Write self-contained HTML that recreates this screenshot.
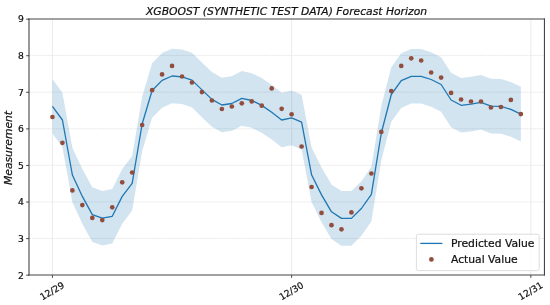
<!DOCTYPE html>
<html><head><meta charset="utf-8"><title>XGBOOST Forecast Horizon</title>
<style>
html,body{margin:0;padding:0;background:#fff;}
body{width:550px;height:305px;overflow:hidden;}
svg{display:block;font-family:"DejaVu Sans","Liberation Sans",sans-serif;fill:#111;}
text{stroke:#111;stroke-width:0.22px;}
.it{font-style:italic;}
</style></head><body>
<svg width="550" height="305" viewBox="0 0 550 305">
<rect width="550" height="305" fill="#fff"/>
<g stroke="#e8e8e8" stroke-width="0.85" stroke-dasharray="2.2 0.5" fill="none">
<line x1="29.0" x2="544.45" y1="238.47" y2="238.47"/>
<line x1="29.0" x2="544.45" y1="201.89" y2="201.89"/>
<line x1="29.0" x2="544.45" y1="165.31" y2="165.31"/>
<line x1="29.0" x2="544.45" y1="128.74" y2="128.74"/>
<line x1="29.0" x2="544.45" y1="92.16" y2="92.16"/>
<line x1="29.0" x2="544.45" y1="55.58" y2="55.58"/>
</g>
<g stroke="#e6e6e6" stroke-width="0.8" fill="none">
<line x1="52.45" x2="52.45" y1="19.0" y2="275.05"/>
<line x1="291.63" x2="291.63" y1="19.0" y2="275.05"/>
<line x1="530.82" x2="530.82" y1="19.0" y2="275.05"/>
</g>
<polygon points="52.45,79 62.42,92.7 72.38,147.7 82.35,169.1 92.31,187.3 102.28,190.9 112.25,189 122.21,169.1 132.18,156 142.14,96.7 152.11,63.2 162.08,53.1 172.04,48.7 182.01,49.5 191.97,52.8 201.94,62.6 211.91,72.1 221.87,77.7 231.84,76.2 241.8,71.1 251.77,73.2 261.74,78.1 271.7,85 281.67,92.7 291.63,90.6 301.6,94.8 311.57,147.5 321.53,167.6 331.5,184.5 341.46,191.1 351.43,191.1 361.4,181.2 371.36,167 381.33,105.7 391.29,67.2 401.26,53.3 411.23,49 421.19,49 431.16,52.2 441.12,57.2 451.09,72.7 461.06,78 471.02,76.8 480.99,75 490.95,78.8 500.92,79.1 510.89,82.1 520.85,86.8 520.85,141.4 510.89,136.7 500.92,133.7 490.95,133.4 480.99,129.6 471.02,131.4 461.06,132.6 451.09,127.3 441.12,111.8 431.16,106.8 421.19,103.6 411.23,103.6 401.26,107.9 391.29,121.8 381.33,160.3 371.36,221.6 361.4,235.8 351.43,245.7 341.46,245.7 331.5,239.1 321.53,222.2 311.57,202.1 301.6,149.4 291.63,145.2 281.67,147.3 271.7,139.6 261.74,132.7 251.77,127.8 241.8,125.7 231.84,130.8 221.87,132.3 211.91,126.7 201.94,117.2 191.97,107.4 182.01,104.1 172.04,103.3 162.08,107.7 152.11,117.8 142.14,151.3 132.18,210.6 122.21,223.7 112.25,243.6 102.28,245.5 92.31,241.9 82.35,223.7 72.38,202.3 62.42,147.3 52.45,133.6" fill="#1f77b4" fill-opacity="0.2" stroke="none"/>
<polyline points="52.45,106.3 62.42,120 72.38,175 82.35,196.4 92.31,214.6 102.28,218.2 112.25,216.3 122.21,196.4 132.18,183.3 142.14,124 152.11,90.5 162.08,80.4 172.04,76 182.01,76.8 191.97,80.1 201.94,89.9 211.91,99.4 221.87,105 231.84,103.5 241.8,98.4 251.77,100.5 261.74,105.4 271.7,112.3 281.67,120 291.63,117.9 301.6,122.1 311.57,174.8 321.53,194.9 331.5,211.8 341.46,218.4 351.43,218.4 361.4,208.5 371.36,194.3 381.33,133 391.29,94.5 401.26,80.6 411.23,76.3 421.19,76.3 431.16,79.5 441.12,84.5 451.09,100 461.06,105.3 471.02,104.1 480.99,102.3 490.95,106.1 500.92,106.4 510.89,109.4 520.85,114.1" fill="none" stroke="#1f77b4" stroke-width="1.3" stroke-linejoin="round" stroke-linecap="butt"/>
<g fill="#914d3e" stroke="none">
<circle cx="52.45" cy="117" r="2.35"/>
<circle cx="62.42" cy="142.8" r="2.35"/>
<circle cx="72.38" cy="190.4" r="2.35"/>
<circle cx="82.35" cy="205.1" r="2.35"/>
<circle cx="92.31" cy="217.9" r="2.35"/>
<circle cx="102.28" cy="220.1" r="2.35"/>
<circle cx="112.25" cy="207.3" r="2.35"/>
<circle cx="122.21" cy="182.3" r="2.35"/>
<circle cx="132.18" cy="172.5" r="2.35"/>
<circle cx="142.14" cy="125" r="2.35"/>
<circle cx="152.11" cy="90.2" r="2.35"/>
<circle cx="162.08" cy="74.4" r="2.35"/>
<circle cx="172.04" cy="65.9" r="2.35"/>
<circle cx="182.01" cy="76.5" r="2.35"/>
<circle cx="191.97" cy="82.5" r="2.35"/>
<circle cx="201.94" cy="92.1" r="2.35"/>
<circle cx="211.91" cy="100.5" r="2.35"/>
<circle cx="221.87" cy="109" r="2.35"/>
<circle cx="231.84" cy="106.5" r="2.35"/>
<circle cx="241.8" cy="103.3" r="2.35"/>
<circle cx="251.77" cy="101.4" r="2.35"/>
<circle cx="261.74" cy="105.7" r="2.35"/>
<circle cx="271.7" cy="88.4" r="2.35"/>
<circle cx="281.67" cy="108.8" r="2.35"/>
<circle cx="291.63" cy="114.3" r="2.35"/>
<circle cx="301.6" cy="146.5" r="2.35"/>
<circle cx="311.57" cy="187" r="2.35"/>
<circle cx="321.53" cy="212.9" r="2.35"/>
<circle cx="331.5" cy="225.2" r="2.35"/>
<circle cx="341.46" cy="229.3" r="2.35"/>
<circle cx="351.43" cy="212.4" r="2.35"/>
<circle cx="361.4" cy="188.3" r="2.35"/>
<circle cx="371.36" cy="173.5" r="2.35"/>
<circle cx="381.33" cy="131.9" r="2.35"/>
<circle cx="391.29" cy="91.1" r="2.35"/>
<circle cx="401.26" cy="65.9" r="2.35"/>
<circle cx="411.23" cy="58.3" r="2.35"/>
<circle cx="421.19" cy="60.5" r="2.35"/>
<circle cx="431.16" cy="72.5" r="2.35"/>
<circle cx="441.12" cy="77.6" r="2.35"/>
<circle cx="451.09" cy="92.9" r="2.35"/>
<circle cx="461.06" cy="99.5" r="2.35"/>
<circle cx="471.02" cy="101.5" r="2.35"/>
<circle cx="480.99" cy="101.5" r="2.35"/>
<circle cx="490.95" cy="107.5" r="2.35"/>
<circle cx="500.92" cy="107" r="2.35"/>
<circle cx="510.89" cy="99.9" r="2.35"/>
<circle cx="520.85" cy="114.1" r="2.35"/>
</g>
<g stroke="#444" stroke-width="1.1" fill="none" stroke-linecap="square">
<line x1="29.0" x2="29.0" y1="19.0" y2="275.05"/>
<line x1="29.0" x2="544.45" y1="275.05" y2="275.05"/>
<line x1="29.0" x2="544.45" y1="19.0" y2="19.0"/>
<line x1="544.45" x2="544.45" y1="19.0" y2="275.05"/>
</g>
<g stroke="#222" stroke-width="0.8" fill="none" transform="translate(0,0.15)">
<line x1="26.1" x2="29.0" y1="275.05" y2="275.05"/>
<line x1="26.1" x2="29.0" y1="238.47" y2="238.47"/>
<line x1="26.1" x2="29.0" y1="201.89" y2="201.89"/>
<line x1="26.1" x2="29.0" y1="165.31" y2="165.31"/>
<line x1="26.1" x2="29.0" y1="128.74" y2="128.74"/>
<line x1="26.1" x2="29.0" y1="92.16" y2="92.16"/>
<line x1="26.1" x2="29.0" y1="55.58" y2="55.58"/>
<line x1="26.1" x2="29.0" y1="19" y2="19"/>
<line x1="52.45" x2="52.45" y1="275.05" y2="277.75"/>
<line x1="291.63" x2="291.63" y1="275.05" y2="277.75"/>
<line x1="530.82" x2="530.82" y1="275.05" y2="277.75"/>
</g>
<g font-size="9.2px">
<text x="23.8" y="278.5" text-anchor="end">2</text>
<text x="23.8" y="241.92" text-anchor="end">3</text>
<text x="23.8" y="205.34" text-anchor="end">4</text>
<text x="23.8" y="168.76" text-anchor="end">5</text>
<text x="23.8" y="132.19" text-anchor="end">6</text>
<text x="23.8" y="95.61" text-anchor="end">7</text>
<text x="23.8" y="59.03" text-anchor="end">8</text>
<text x="23.8" y="22.45" text-anchor="end">9</text>
</g>
<g font-size="9.2px">
<text transform="translate(52.05,290.9) rotate(-30)" text-anchor="middle" dy="3.3">12/29</text>
<text transform="translate(291.23,290.9) rotate(-30)" text-anchor="middle" dy="3.3">12/30</text>
<text transform="translate(530.42,290.9) rotate(-30)" text-anchor="middle" dy="3.3">12/31</text>
</g>
<text class="it" x="286.55" y="14.7" font-size="10.78px" text-anchor="middle">XGBOOST (SYNTHETIC TEST DATA) Forecast Horizon</text>
<text class="it" transform="translate(12.4,147.95) rotate(-90)" font-size="10.75px" text-anchor="middle">Measurement</text>
<rect x="416.4" y="234.2" width="122.8" height="36.4" rx="2" ry="2" fill="#fff" fill-opacity="0.8" stroke="#d4d4d4" stroke-width="0.8"/>
<line x1="420.3" x2="442.4" y1="243.4" y2="243.4" stroke="#1f77b4" stroke-width="1.3"/>
<circle cx="431.4" cy="259.4" r="2.35" fill="#914d3e"/>
<text x="451" y="247.15" font-size="10.75px">Predicted Value</text>
<text x="451" y="262.85" font-size="10.75px">Actual Value</text>
</svg>
</body></html>
